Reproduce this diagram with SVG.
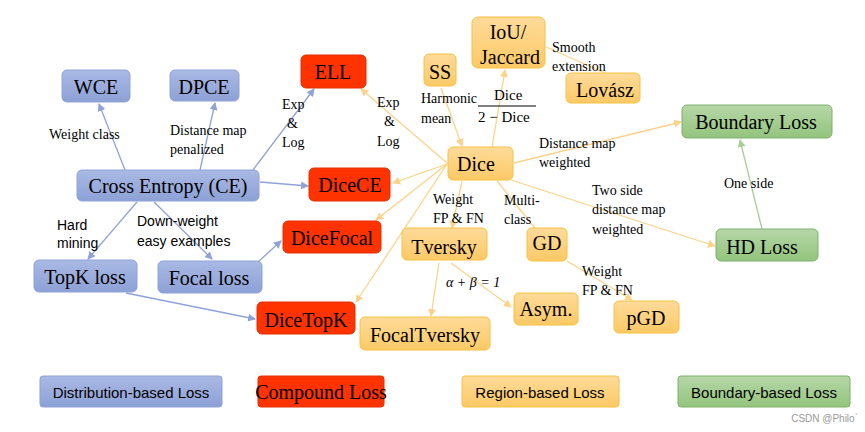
<svg xmlns="http://www.w3.org/2000/svg" width="865" height="432" viewBox="0 0 865 432">
<style>
.b{fill:url(#gb);stroke:#8fa3d8;stroke-width:1}
.r{fill:#ff3300;stroke:#e03000;stroke-width:1}
.o{fill:url(#go);stroke:#f5c242;stroke-width:1}
.g{fill:url(#gg);stroke:#7fb06a;stroke-width:1}
.t{font-family:"Liberation Serif",serif;font-size:20px;fill:#000;text-anchor:middle;dominant-baseline:central}
.s{font-family:"Liberation Serif",serif;font-size:14px;fill:#000}
.a{font-family:"Liberation Sans",sans-serif;font-size:14px;fill:#000}
.lb{font-family:"Liberation Sans",sans-serif;font-size:15px;fill:#000;text-anchor:middle;dominant-baseline:central}
.eb{stroke:#8fa3d8;stroke-width:1.3;fill:none;marker-end:url(#mb)}
.eo{stroke:#fcd38a;stroke-width:1.3;fill:none;marker-end:url(#mo)}
.eg{stroke:#a6cf96;stroke-width:1.3;fill:none;marker-end:url(#mg)}
</style>
<defs>
<linearGradient id="gb" x1="0" y1="0" x2="0" y2="1"><stop offset="0" stop-color="#aab9e4"/><stop offset="1" stop-color="#8da1d6"/></linearGradient>
<linearGradient id="go" x1="0" y1="0" x2="0" y2="1"><stop offset="0" stop-color="#fedb9a"/><stop offset="1" stop-color="#fdc966"/></linearGradient>
<linearGradient id="gg" x1="0" y1="0" x2="0" y2="1"><stop offset="0" stop-color="#b6d7a8"/><stop offset="1" stop-color="#93c47d"/></linearGradient>
<marker id="mb" markerWidth="8" markerHeight="8" refX="7" refY="4" orient="auto" markerUnits="userSpaceOnUse"><path d="M0,0L8,4L0,8z" fill="#8fa3d8"/></marker>
<marker id="mo" markerWidth="8" markerHeight="8" refX="7" refY="4" orient="auto" markerUnits="userSpaceOnUse"><path d="M0,0L8,4L0,8z" fill="#fcd38a"/></marker>
<marker id="mg" markerWidth="8" markerHeight="8" refX="7" refY="4" orient="auto" markerUnits="userSpaceOnUse"><path d="M0,0L8,4L0,8z" fill="#a6cf96"/></marker>
</defs>
<rect width="865" height="432" fill="#fff"/>
<g id="connectors">
<line class="eb" x1="125" y1="170" x2="99" y2="104"/>
<line class="eb" x1="200" y1="170" x2="215" y2="103"/>
<line class="eb" x1="253" y1="170" x2="314" y2="89"/>
<line class="eb" x1="260" y1="182" x2="308" y2="186"/>
<line class="eb" x1="137" y1="202" x2="88" y2="259"/>
<line class="eb" x1="154" y1="202" x2="212" y2="259"/>
<line class="eb" x1="258" y1="262" x2="281" y2="241"/>
<line class="eb" x1="126" y1="293" x2="255" y2="319"/>
<line class="eo" x1="447" y1="163" x2="361" y2="89"/>
<line class="eo" x1="447" y1="164" x2="393" y2="183"/>
<line class="eo" x1="447" y1="164" x2="376" y2="220"/>
<line class="eo" x1="447" y1="164" x2="356" y2="302"/>
<line class="eo" x1="441" y1="88" x2="462" y2="146"/>
<line class="eo" x1="492" y1="147" x2="505" y2="70"/>
<line x1="546" y1="47" x2="605" y2="73" stroke="#fcd38a" stroke-width="1.3"/>
<line class="eo" x1="514" y1="163" x2="681" y2="122"/>
<line class="eo" x1="511" y1="180" x2="715" y2="246"/>
<line class="eo" x1="462" y1="181" x2="452" y2="228"/>
<line x1="497" y1="181" x2="535" y2="228" stroke="#fcd38a" stroke-width="1.3"/>
<line class="eo" x1="567" y1="261" x2="632" y2="300"/>
<line class="eo" x1="451" y1="263" x2="511" y2="307"/>
<line class="eo" x1="439" y1="263" x2="431" y2="316"/>
<line class="eg" x1="762" y1="229" x2="740" y2="140"/>
</g>
<g id="edge-labels">
<text class="s" x="49" y="139">Weight class</text>
<text class="s" x="170" y="135">Distance map</text>
<text class="s" x="170" y="154">penalized</text>
<text class="s" x="282" y="109">Exp</text><text class="s" x="287" y="128">&amp;</text><text class="s" x="282" y="147">Log</text>
<text class="s" x="377" y="107">Exp</text><text class="s" x="384" y="126">&amp;</text><text class="s" x="377" y="146">Log</text>
<text class="a" x="57" y="230">Hard</text><text class="a" x="57" y="248">mining</text>
<text class="a" x="137" y="226">Down-weight</text><text class="a" x="137" y="246">easy examples</text>
<text class="s" x="421" y="103">Harmonic</text><text class="s" x="421" y="123">mean</text>
<text class="s" x="494" y="100" style="font-size:15px">Dice</text>
<line x1="478" y1="106" x2="536" y2="106" stroke="#000" stroke-width="1"/>
<text class="s" x="478" y="122" style="font-size:15px">2 − Dice</text>
<text class="s" x="552" y="52">Smooth</text><text class="s" x="552" y="71">extension</text>
<text class="s" x="539" y="148">Distance map</text><text class="s" x="539" y="167">weighted</text>
<text class="s" x="592" y="195">Two side</text><text class="s" x="592" y="214">distance map</text><text class="s" x="592" y="234">weighted</text>
<text class="s" x="724" y="188">One side</text>
<text class="s" x="433" y="204">Weight</text><text class="s" x="433" y="223">FP &amp; FN</text>
<text class="s" x="504" y="205">Multi-</text><text class="s" x="504" y="224">class</text>
<text class="s" x="446" y="287" style="font-style:italic">α + β = 1</text>
<text class="s" x="582" y="276">Weight</text><text class="s" x="582" y="295">FP &amp; FN</text>
</g>
<g id="WCE"><rect class="b" x="62" y="70" width="68" height="32" rx="5"/><text class="t" x="96" y="87">WCE</text></g>
<g id="DPCE"><rect class="b" x="170" y="70" width="69" height="31" rx="5"/><text class="t" x="204" y="87">DPCE</text></g>
<g id="ELL"><rect class="r" x="301" y="55" width="65" height="33" rx="5"/><text class="t" x="333" y="72">ELL</text></g>
<g id="CE"><rect class="b" x="77" y="170" width="182" height="31" rx="5"/><text class="t" x="168" y="186">Cross Entropy (CE)</text></g>
<g id="DiceCE"><rect class="r" x="309" y="168" width="81" height="33" rx="5"/><text class="t" x="350" y="185">DiceCE</text></g>
<g id="DiceFocal"><rect class="r" x="283" y="221" width="98" height="32" rx="5"/><text class="t" x="332" y="238">DiceFocal</text></g>
<g id="TopK"><rect class="b" x="34" y="260" width="103" height="32" rx="5"/><text class="t" x="85" y="277">TopK loss</text></g>
<g id="Focal"><rect class="b" x="158" y="261" width="104" height="32" rx="5"/><text class="t" x="209" y="278">Focal loss</text></g>
<g id="DiceTopK"><rect class="r" x="257" y="302" width="98" height="32" rx="5"/><text class="t" x="306" y="320">DiceTopK</text></g>
<g id="SS"><rect class="o" x="424" y="54" width="32" height="32" rx="5"/><text class="t" x="440" y="72">SS</text></g>
<g id="IoU"><rect class="o" x="472" y="17" width="73" height="51" rx="6"/><text class="t" x="508" y="32">IoU/</text><text class="t" x="510" y="57">Jaccard</text></g>
<g id="Lovasz"><rect class="o" x="566" y="73" width="74" height="30" rx="5"/><text class="t" x="605" y="90">Lovász</text></g>
<g id="Dice"><rect class="o" x="448" y="147" width="65" height="33" rx="5"/><text class="t" x="476" y="164">Dice</text></g>
<g id="Boundary"><rect class="g" x="682" y="105" width="150" height="33" rx="5"/><text class="t" x="756" y="122">Boundary Loss</text></g>
<g id="HD"><rect class="g" x="716" y="229" width="102" height="32" rx="5"/><text class="t" x="762" y="247">HD Loss</text></g>
<g id="Tversky"><rect class="o" x="402" y="228" width="85" height="32" rx="5"/><text class="t" x="444" y="247">Tversky</text></g>
<g id="GD"><rect class="o" x="527" y="228" width="40" height="33" rx="5"/><text class="t" x="547" y="243">GD</text></g>
<g id="Asym"><rect class="o" x="514" y="293" width="64" height="32" rx="5"/><text class="t" x="546" y="309">Asym.</text></g>
<g id="pGD"><rect class="o" x="614" y="301" width="65" height="32" rx="5"/><text class="t" x="646" y="318">pGD</text></g>
<g id="FocalTversky"><rect class="o" x="360" y="317" width="130" height="33" rx="5"/><text class="t" x="425" y="335">FocalTversky</text></g>
<g id="legend">
<rect class="b" x="40" y="376" width="182" height="31" rx="3"/><text class="lb" x="131" y="392">Distribution-based Loss</text>
<rect class="r" x="258" y="376" width="126" height="31" rx="3"/><text class="t" x="321" y="392">Compound Loss</text>
<rect class="o" x="462" y="376" width="157" height="31" rx="3"/><text class="lb" x="540" y="392">Region-based Loss</text>
<rect class="g" x="678" y="376" width="172" height="31" rx="3"/><text class="lb" x="764" y="392">Boundary-based Loss</text>
</g>
<text x="858" y="422" style="font-family:'Liberation Sans',sans-serif;font-size:10px;fill:#999;text-anchor:end">CSDN @Philo`</text>
</svg>
